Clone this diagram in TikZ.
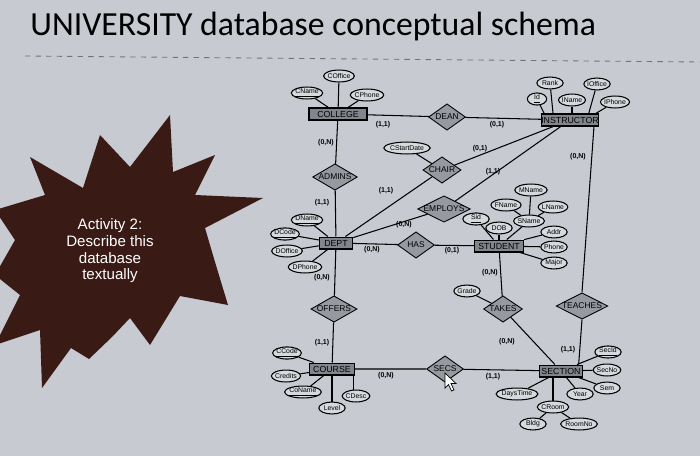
\documentclass[tikz,border=0pt]{standalone}
\usepackage{fontspec}
\setmainfont{Liberation Sans}
\newfontfamily\titlefont{Carlito}
\usetikzlibrary{shapes.geometric}

\definecolor{slidebg}{RGB}{199,203,209}
\definecolor{entfill}{RGB}{130,134,140}
\definecolor{relfill}{RGB}{150,154,160}
\definecolor{attrfill}{RGB}{214,217,221}
\definecolor{burst}{RGB}{58,26,20}

\tikzset{
  ent/.style={draw=black, line width=0.6pt, fill=entfill, inner sep=0pt,
    minimum height=6.8pt, font=\fontsize{5}{5.5}\selectfont},
  rel/.style={diamond, draw=black, line width=0.5pt, fill=relfill, aspect=2,
    inner sep=0pt, minimum height=15pt, minimum width=21pt,
    font=\fontsize{4.8}{5}\selectfont},
  attr/.style={ellipse, draw=black, line width=0.6pt, fill=attrfill,
    inner xsep=-0.3pt, inner ysep=0pt, minimum height=6.8pt, minimum width=15pt,
    font=\fontsize{3.9}{4.2}\selectfont},
  card/.style={font=\fontsize{4}{4.4}\selectfont\bfseries},
  link/.style={line width=0.6pt},
}

\begin{document}
\begin{tikzpicture}[x=0.02cm, y=-0.02cm]
\useasboundingbox (0,0) rectangle (700,456);
\fill[slidebg] (0,0) rectangle (700,456);
% title
\node[anchor=base west, inner sep=0pt, font=\titlefont\fontsize{19.2}{23}\selectfont] (title) at (30,36) {UNIVERSITY database conceptual schema};
\coordinate (rulel) at (25,56);
\coordinate (ruler) at (700,62);
\draw[dashed, black!55, line width=0.5pt] (rulel) -- (ruler);
% activity burst
\fill[burst] (30,157) -- (83,188) -- (100,135) -- (130,167) -- (170,115) -- (173,172)
  -- (215,155) -- (195,195) -- (263,198) -- (205,228) -- (215,262) -- (228,305)
  -- (180,296) -- (150,345) -- (130,318) -- (112,337) -- (89,359) -- (71,348)
  -- (42,388) -- (40,330) -- (-5,345) -- (20,295) -- (-5,275) -- (15,240)
  -- (-5,210) -- (45,195) -- cycle;
\node[text=white, align=center, font=\fontsize{8.6}{9.5}\selectfont] (activity) at (110,251)
  {Activity 2:\\Describe this\\database\\textually};

% entities
\node[ent, minimum width=33pt] (COLLEGE) at (338,114) {COLLEGE};
\node[ent, minimum width=31pt] (INSTRUCTOR) at (570,120) {INSTRUCTOR};
\node[ent, minimum width=19pt] (DEPT) at (336,243) {DEPT};
\node[ent, minimum width=28pt] (STUDENT) at (499,246) {STUDENT};
\node[ent, minimum width=25.5pt] (COURSE) at (332,369) {COURSE};
\node[ent, minimum width=24.5pt] (SECTION) at (561,371) {SECTION};

% relationships
\node[rel] (DEAN) at (447,117) {DEAN};
\node[rel] (CHAIR) at (442,170) {CHAIR};
\node[rel] (ADMINS) at (335,177) {ADMINS};
\node[rel] (EMPLOYS) at (444,209) {EMPLOYS};
\node[rel] (HAS) at (416,245) {HAS};
\node[rel] (TAKES) at (503,309) {TAKES};
\node[rel] (TEACHES) at (582,306) {TEACHES};
\node[rel] (OFFERS) at (334,309) {OFFERS};
\node[rel] (SECS) at (445,369) {SECS};

% attributes of COLLEGE
\node[attr] (COffice) at (339,76) {COffice};
\node[attr] (CName) at (307,93) {\underline{CName}};
\node[attr] (CPhone) at (367,95) {CPhone};
% attributes of INSTRUCTOR
\node[attr] (Rank) at (550,83) {Rank};
\node[attr] (IOffice) at (597,84) {IOffice};
\node[attr, minimum width=11pt] (Id) at (537,99) {\underline{Id}};
\node[attr] (IName) at (572,100) {IName};
\node[attr] (IPhone) at (615,102) {IPhone};
% attribute of CHAIR
\node[attr] (CStartDate) at (407,148) {CStartDate};
% attributes of DEPT
\node[attr] (DName) at (307,220) {\underline{DName}};
\node[attr] (DCode) at (285,234) {\underline{DCode}};
\node[attr] (DOffice) at (287,251) {DOffice};
\node[attr] (DPhone) at (305,267) {DPhone};
% attributes of STUDENT
\node[attr] (MName) at (531,190) {MName};
\node[attr] (FName) at (506,205) {FName};
\node[attr] (LName) at (553,207) {LName};
\node[attr] (SName) at (529,221) {SName};
\node[attr] (Sid) at (476,219) {\underline{Sid}};
\node[attr] (DOB) at (499,228) {DOB};
\node[attr] (Addr) at (554,232) {Addr};
\node[attr] (Phone) at (554,247) {Phone};
\node[attr] (Major) at (554,263) {Major};
% attribute of TAKES
\node[attr] (Grade) at (467,291) {Grade};
% attributes of COURSE
\node[attr] (CCode) at (287,353) {\underline{CCode}};
\node[attr] (Credits) at (286,376) {Credits};
\node[attr] (CoName) at (303,392) {\underline{CoName}};
\node[attr] (Level) at (332,408) {Level};
\node[attr] (CDesc) at (356,396) {CDesc};
% attributes of SECTION
\node[attr] (SecId) at (608,352) {\underline{SecId}};
\node[attr] (SecNo) at (607,370) {SecNo};
\node[attr] (Sem) at (607,388) {Sem};
\node[attr] (Year) at (580,394) {Year};
\node[attr] (DaysTime) at (517,394) {DaysTime};
\node[attr] (CRoom) at (553,407) {CRoom};
\node[attr] (Bldg) at (533,424) {Bldg};
\node[attr] (RoomNo) at (579,424) {RoomNo};

% relationship links
\draw[link] (COLLEGE) -- (DEAN) -- (INSTRUCTOR);
\draw[link] (COLLEGE) -- (ADMINS) -- (DEPT) -- (OFFERS) -- (COURSE);
\draw[link] (DEPT) -- (CHAIR) -- (INSTRUCTOR);
\draw[link] (DEPT) -- (EMPLOYS) -- (INSTRUCTOR);
\draw[link] (DEPT) -- (HAS) -- (STUDENT);
\draw[link] (STUDENT) -- (TAKES) -- (SECTION);
\draw[link] ([xshift=-3pt]INSTRUCTOR.south east) -- (TEACHES.north);
\draw[link] (TEACHES.south) -- ([xshift=-2.5pt]SECTION.north east);
\draw[link] (COURSE) -- (SECS) -- (SECTION);

% attribute links
\draw[link] (COffice) -- (COLLEGE);
\draw[link] (CName) -- (COLLEGE);
\draw[link] (CPhone) -- (COLLEGE);
\draw[link] (Rank) -- ([xshift=7pt]INSTRUCTOR.north west);
\draw[link] (IOffice) -- ([xshift=-6pt]INSTRUCTOR.north east);
\draw[link] (Id) -- ([xshift=2pt]INSTRUCTOR.north west);
\draw[link] (IName) -- (IName |- INSTRUCTOR.north);
\draw[link] (IPhone) -- ([xshift=-2pt]INSTRUCTOR.north east);
\draw[link] (CStartDate) -- (CHAIR);
\foreach \a in {DName,DCode,DOffice,DPhone}
  \draw[link] (\a) -- (DEPT);
\foreach \a in {MName,FName,LName}
  \draw[link] (\a) -- (SName);
\foreach \a in {SName,Sid,DOB,Addr,Phone,Major}
  \draw[link] (\a) -- (STUDENT);
\draw[link] (Grade) -- (TAKES);
\foreach \a in {CCode,Credits,CoName}
  \draw[link] (\a) -- (COURSE);
\draw[link] (Level) -- (Level |- COURSE.south);
\draw[link] (CDesc.110) -- (CDesc.110 |- COURSE.south);
\foreach \a in {SecId,SecNo,Sem,Year,DaysTime}
  \draw[link] (\a) -- (SECTION);
\draw[link] (CRoom) -- (CRoom |- SECTION.south);
\draw[link] (Bldg) -- (CRoom);
\draw[link] (RoomNo) -- (CRoom);

% cardinalities
\node[card] (c1) at (383,125) {(1,1)};
\node[card] (c2) at (497,125) {(0,1)};
\node[card] (c3) at (326,143) {(0,N)};
\node[card] (c4) at (322,203) {(1,1)};
\node[card] (c5) at (386,191) {(1,1)};
\node[card] (c6) at (480,149) {(0,1)};
\node[card] (c7) at (404,225) {(0,N)};
\node[card] (c8) at (493,172) {(1,1)};
\node[card] (c9) at (372,250) {(0,N)};
\node[card] (c10) at (452,251) {(0,1)};
\node[card] (c11) at (322,278) {(0,N)};
\node[card] (c12) at (322,343) {(1,1)};
\node[card] (c13) at (386,376) {(0,N)};
\node[card] (c14) at (493,377) {(1,1)};
\node[card] (c15) at (490,273) {(0,N)};
\node[card] (c16) at (507,342) {(0,N)};
\node[card] (c17) at (578,157) {(0,N)};
\node[card] (c18) at (568,350) {(1,1)};

% mouse pointer
\filldraw[fill=white, draw=black, line width=0.4pt] (445,373) -- (445,388) -- (448.5,384.5)
  -- (451.5,391) -- (454,390) -- (451,383.5) -- (456,383.5) -- cycle;
\end{tikzpicture}
\end{document}
